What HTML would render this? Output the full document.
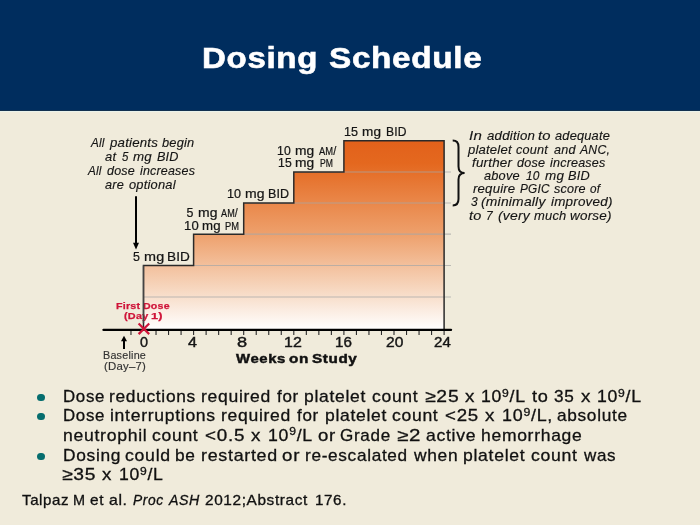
<!DOCTYPE html>
<html><head><meta charset="utf-8"><style>
html,body{margin:0;padding:0;}
body{width:700px;height:525px;overflow:hidden;position:relative;background:#f0ebdb;font-family:"Liberation Sans",sans-serif;}
.hdr{position:absolute;left:0;top:0;width:700px;height:110px;background:#002d5e;}
.t{position:absolute;white-space:nowrap;transform-origin:0 0;}
.chart{position:absolute;left:0;top:0;}
.txt{position:absolute;left:0;top:0;width:700px;height:525px;will-change:transform;}
.dot{position:absolute;width:7.2px;height:7.2px;border-radius:50%;background:#056d6e;}
</style></head><body>
<div class="hdr"></div><div style="position:absolute;left:0;top:110px;width:700px;height:1px;background:#13304f"></div><div style="position:absolute;left:0;top:111px;width:700px;height:1px;background:#eaf2ea"></div>
<svg class="chart" width="700" height="525" viewBox="0 0 700 525">
<defs><linearGradient id="g" x1="0" y1="140.7" x2="0" y2="329.5" gradientUnits="userSpaceOnUse">
<stop offset="0" stop-color="#e2611b"/><stop offset="0.12" stop-color="#e4681f"/><stop offset="0.5" stop-color="#eea16d"/><stop offset="0.8" stop-color="#f7dac4"/><stop offset="1" stop-color="#ffffff"/></linearGradient>
<clipPath id="cp"><polygon points="143.50,329.50 143.50,265.50 193.60,265.50 193.60,234.20 243.70,234.20 243.70,203.00 293.80,203.00 293.80,172.00 343.90,172.00 343.90,140.70 444.10,140.70 444.10,329.50"/><rect x="444" y="130" width="8" height="200"/></clipPath></defs>
<polygon points="143.50,329.50 143.50,265.50 193.60,265.50 193.60,234.20 243.70,234.20 243.70,203.00 293.80,203.00 293.80,172.00 343.90,172.00 343.90,140.70 444.10,140.70 444.10,329.50" fill="url(#g)"/>
<g stroke="#a6a6a6" stroke-opacity="0.72" stroke-width="1.2" clip-path="url(#cp)"><line x1="143.50" y1="172.0" x2="451" y2="172.0"/><line x1="143.50" y1="203.0" x2="451" y2="203.0"/><line x1="143.50" y1="234.2" x2="451" y2="234.2"/><line x1="143.50" y1="265.5" x2="451" y2="265.5"/><line x1="143.50" y1="297.0" x2="451" y2="297.0"/></g>
<polyline points="143.50,329.50 143.50,265.50 193.60,265.50 193.60,234.20 243.70,234.20 243.70,203.00 293.80,203.00 293.80,172.00 343.90,172.00 343.90,140.70 444.10,140.70 444.10,329.50" fill="none" stroke="#2a2a2a" stroke-width="1.5"/>
<g stroke="#2a2a2a" stroke-width="1.1"><line x1="130.97" y1="329.8" x2="130.97" y2="335"/><line x1="156.03" y1="329.8" x2="156.03" y2="335"/><line x1="168.55" y1="329.8" x2="168.55" y2="335"/><line x1="181.07" y1="329.8" x2="181.07" y2="335"/><line x1="193.60" y1="329.8" x2="193.60" y2="335"/><line x1="206.12" y1="329.8" x2="206.12" y2="335"/><line x1="218.65" y1="329.8" x2="218.65" y2="335"/><line x1="231.18" y1="329.8" x2="231.18" y2="335"/><line x1="243.70" y1="329.8" x2="243.70" y2="335"/><line x1="256.23" y1="329.8" x2="256.23" y2="335"/><line x1="268.75" y1="329.8" x2="268.75" y2="335"/><line x1="281.27" y1="329.8" x2="281.27" y2="335"/><line x1="293.80" y1="329.8" x2="293.80" y2="335"/><line x1="306.33" y1="329.8" x2="306.33" y2="335"/><line x1="318.85" y1="329.8" x2="318.85" y2="335"/><line x1="331.38" y1="329.8" x2="331.38" y2="335"/><line x1="343.90" y1="329.8" x2="343.90" y2="335"/><line x1="356.43" y1="329.8" x2="356.43" y2="335"/><line x1="368.95" y1="329.8" x2="368.95" y2="335"/><line x1="381.48" y1="329.8" x2="381.48" y2="335"/><line x1="394.00" y1="329.8" x2="394.00" y2="335"/><line x1="406.53" y1="329.8" x2="406.53" y2="335"/><line x1="419.05" y1="329.8" x2="419.05" y2="335"/><line x1="431.57" y1="329.8" x2="431.57" y2="335"/><line x1="444.10" y1="329.8" x2="444.10" y2="335"/></g>
<line x1="103.5" y1="329.8" x2="451" y2="329.8" stroke="#000" stroke-width="2.35" stroke-linecap="round"/>
<g stroke="#cf1439" stroke-width="2.2"><line x1="138.6" y1="323.5" x2="149.2" y2="334.1"/><line x1="149.2" y1="323.5" x2="138.6" y2="334.1"/></g>
<line x1="124" y1="349" x2="124" y2="340" stroke="#000" stroke-width="2"/>
<polygon points="124,335.8 127,341.2 121,341.2" fill="#000"/>
<line x1="136" y1="196.3" x2="136" y2="243" stroke="#000" stroke-width="2"/>
<polygon points="136,249.4 139,242.8 133,242.8" fill="#000"/>
<path d="M452.7 140.6 Q458.5 140.6 458.5 147 L458.5 166.5 Q458.5 173 464.6 173 Q458.5 173 458.5 179.5 L458.5 199 Q458.5 205.4 452.7 205.4" fill="none" stroke="#111" stroke-width="2"/>
</svg>
<div class="dot" style="left:37.4px;top:394.0px"></div><div class="dot" style="left:37.4px;top:413.2px"></div><div class="dot" style="left:37.4px;top:452.8px"></div>
<div class="txt"><div class="t" style="left:201.80px;top:42.80px;font-size:30px;line-height:30px;font-weight:bold;font-style:normal;color:#ffffff;letter-spacing:0.02em;transform:scaleX(1.1020);-webkit-text-stroke:0.6px #ffffff">Dosing</div><div class="t" style="left:328.89px;top:42.80px;font-size:30px;line-height:30px;font-weight:bold;font-style:normal;color:#ffffff;letter-spacing:0.02em;transform:scaleX(1.1103);-webkit-text-stroke:0.6px #ffffff">Schedule</div><div class="t" style="left:343.78px;top:126.00px;font-size:12.4px;line-height:12.4px;font-weight:normal;font-style:normal;color:#151515;letter-spacing:0.01em;transform:scaleX(1.0154);-webkit-text-stroke:0.22px #151515">15</div><div class="t" style="left:362.41px;top:126.00px;font-size:12.4px;line-height:12.4px;font-weight:normal;font-style:normal;color:#151515;letter-spacing:0.01em;transform:scaleX(1.0938);-webkit-text-stroke:0.22px #151515">mg</div><div class="t" style="left:386.02px;top:126.00px;font-size:12.4px;line-height:12.4px;font-weight:normal;font-style:normal;color:#151515;letter-spacing:0.01em;transform:scaleX(0.9750);-webkit-text-stroke:0.22px #151515">BID</div><div class="t" style="left:277.32px;top:144.80px;font-size:12.4px;line-height:12.4px;font-weight:normal;font-style:normal;color:#151515;letter-spacing:0.01em;transform:scaleX(0.9846);-webkit-text-stroke:0.22px #151515">10</div><div class="t" style="left:295.49px;top:144.80px;font-size:12.4px;line-height:12.4px;font-weight:normal;font-style:normal;color:#151515;letter-spacing:0.01em;transform:scaleX(1.1125);-webkit-text-stroke:0.22px #151515">mg</div><div class="t" style="left:319.00px;top:144.80px;font-size:12.4px;line-height:12.4px;font-weight:normal;font-style:normal;color:#151515;letter-spacing:0.01em;transform:scaleX(0.8900);-webkit-text-stroke:0.22px #151515"><span style="font-size:0.85em">AM</span>/</div><div class="t" style="left:277.72px;top:157.30px;font-size:12.4px;line-height:12.4px;font-weight:normal;font-style:normal;color:#151515;letter-spacing:0.01em;transform:scaleX(0.9846);-webkit-text-stroke:0.22px #151515">15</div><div class="t" style="left:295.49px;top:157.30px;font-size:12.4px;line-height:12.4px;font-weight:normal;font-style:normal;color:#151515;letter-spacing:0.01em;transform:scaleX(1.1125);-webkit-text-stroke:0.22px #151515">mg</div><div class="t" style="left:319.99px;top:157.30px;font-size:12.4px;line-height:12.4px;font-weight:normal;font-style:normal;color:#151515;letter-spacing:0.01em;transform:scaleX(0.8143);-webkit-text-stroke:0.22px #151515"><span style="font-size:0.85em">PM</span></div><div class="t" style="left:226.58px;top:188.00px;font-size:12.4px;line-height:12.4px;font-weight:normal;font-style:normal;color:#151515;letter-spacing:0.01em;transform:scaleX(1.0154);-webkit-text-stroke:0.22px #151515">10</div><div class="t" style="left:244.57px;top:188.00px;font-size:12.4px;line-height:12.4px;font-weight:normal;font-style:normal;color:#151515;letter-spacing:0.01em;transform:scaleX(1.1313);-webkit-text-stroke:0.22px #151515">mg</div><div class="t" style="left:268.49px;top:188.00px;font-size:12.4px;line-height:12.4px;font-weight:normal;font-style:normal;color:#151515;letter-spacing:0.01em;transform:scaleX(1.0100);-webkit-text-stroke:0.22px #151515">BID</div><div class="t" style="left:186.60px;top:206.70px;font-size:12.4px;line-height:12.4px;font-weight:normal;font-style:normal;color:#151515;letter-spacing:0.01em;transform:scaleX(1.0000);-webkit-text-stroke:0.22px #151515">5</div><div class="t" style="left:197.57px;top:206.70px;font-size:12.4px;line-height:12.4px;font-weight:normal;font-style:normal;color:#151515;letter-spacing:0.01em;transform:scaleX(1.1250);-webkit-text-stroke:0.22px #151515">mg</div><div class="t" style="left:221.40px;top:206.70px;font-size:12.4px;line-height:12.4px;font-weight:normal;font-style:normal;color:#151515;letter-spacing:0.01em;transform:scaleX(0.8600);-webkit-text-stroke:0.22px #151515"><span style="font-size:0.85em">AM</span>/</div><div class="t" style="left:183.55px;top:219.60px;font-size:12.4px;line-height:12.4px;font-weight:normal;font-style:normal;color:#151515;letter-spacing:0.01em;transform:scaleX(1.0538);-webkit-text-stroke:0.22px #151515">10</div><div class="t" style="left:201.93px;top:219.60px;font-size:12.4px;line-height:12.4px;font-weight:normal;font-style:normal;color:#151515;letter-spacing:0.01em;transform:scaleX(1.0687);-webkit-text-stroke:0.22px #151515">mg</div><div class="t" style="left:224.81px;top:219.60px;font-size:12.4px;line-height:12.4px;font-weight:normal;font-style:normal;color:#151515;letter-spacing:0.01em;transform:scaleX(0.8857);-webkit-text-stroke:0.22px #151515"><span style="font-size:0.85em">PM</span></div><div class="t" style="left:133.10px;top:251.10px;font-size:12.4px;line-height:12.4px;font-weight:normal;font-style:normal;color:#151515;letter-spacing:0.01em;transform:scaleX(1.0000);-webkit-text-stroke:0.22px #151515">5</div><div class="t" style="left:143.84px;top:251.10px;font-size:12.4px;line-height:12.4px;font-weight:normal;font-style:normal;color:#151515;letter-spacing:0.01em;transform:scaleX(1.1625);-webkit-text-stroke:0.22px #151515">mg</div><div class="t" style="left:167.31px;top:251.10px;font-size:12.4px;line-height:12.4px;font-weight:normal;font-style:normal;color:#151515;letter-spacing:0.01em;transform:scaleX(1.0950);-webkit-text-stroke:0.22px #151515">BID</div><div class="t" style="left:91.00px;top:136.70px;font-size:12.8px;line-height:12.8px;font-weight:normal;font-style:italic;color:#151515;letter-spacing:0.015em;transform:scaleX(0.9157);-webkit-text-stroke:0.15px #151515">All</div><div class="t" style="left:110.09px;top:136.70px;font-size:12.8px;line-height:12.8px;font-weight:normal;font-style:italic;color:#151515;letter-spacing:0.015em;transform:scaleX(1.0350);-webkit-text-stroke:0.15px #151515">patients</div><div class="t" style="left:162.46px;top:136.70px;font-size:12.8px;line-height:12.8px;font-weight:normal;font-style:italic;color:#151515;letter-spacing:0.015em;transform:scaleX(1.0014);-webkit-text-stroke:0.15px #151515">begin</div><div class="t" style="left:105.00px;top:150.90px;font-size:12.8px;line-height:12.8px;font-weight:normal;font-style:italic;color:#151515;letter-spacing:0.015em;transform:scaleX(1.0140);-webkit-text-stroke:0.15px #151515">at</div><div class="t" style="left:121.59px;top:150.90px;font-size:12.8px;line-height:12.8px;font-weight:normal;font-style:italic;color:#151515;letter-spacing:0.015em;transform:scaleX(0.8987);-webkit-text-stroke:0.15px #151515">5</div><div class="t" style="left:133.07px;top:150.90px;font-size:12.8px;line-height:12.8px;font-weight:normal;font-style:italic;color:#151515;letter-spacing:0.015em;transform:scaleX(1.0424);-webkit-text-stroke:0.15px #151515">mg</div><div class="t" style="left:156.66px;top:150.90px;font-size:12.8px;line-height:12.8px;font-weight:normal;font-style:italic;color:#151515;letter-spacing:0.015em;transform:scaleX(0.9882);-webkit-text-stroke:0.15px #151515">BID</div><div class="t" style="left:88.00px;top:164.90px;font-size:12.8px;line-height:12.8px;font-weight:normal;font-style:italic;color:#151515;letter-spacing:0.015em;transform:scaleX(0.9162);-webkit-text-stroke:0.15px #151515">All</div><div class="t" style="left:107.10px;top:164.90px;font-size:12.8px;line-height:12.8px;font-weight:normal;font-style:italic;color:#151515;letter-spacing:0.015em;transform:scaleX(0.9803);-webkit-text-stroke:0.15px #151515">dose</div><div class="t" style="left:139.90px;top:164.90px;font-size:12.8px;line-height:12.8px;font-weight:normal;font-style:italic;color:#151515;letter-spacing:0.015em;transform:scaleX(0.9749);-webkit-text-stroke:0.15px #151515">increases</div><div class="t" style="left:105.00px;top:179.10px;font-size:12.8px;line-height:12.8px;font-weight:normal;font-style:italic;color:#151515;letter-spacing:0.015em;transform:scaleX(0.9943);-webkit-text-stroke:0.15px #151515">are</div><div class="t" style="left:128.73px;top:179.10px;font-size:12.8px;line-height:12.8px;font-weight:normal;font-style:italic;color:#151515;letter-spacing:0.015em;transform:scaleX(1.0078);-webkit-text-stroke:0.15px #151515">optional</div><div class="t" style="left:469.13px;top:130.40px;font-size:12.9px;line-height:12.9px;font-weight:normal;font-style:italic;color:#151515;letter-spacing:0.015em;transform:scaleX(1.1677);-webkit-text-stroke:0.15px #151515">In</div><div class="t" style="left:486.72px;top:130.40px;font-size:12.9px;line-height:12.9px;font-weight:normal;font-style:italic;color:#151515;letter-spacing:0.015em;transform:scaleX(1.0311);-webkit-text-stroke:0.15px #151515">addition</div><div class="t" style="left:537.62px;top:130.40px;font-size:12.9px;line-height:12.9px;font-weight:normal;font-style:italic;color:#151515;letter-spacing:0.015em;transform:scaleX(1.1487);-webkit-text-stroke:0.15px #151515">to</div><div class="t" style="left:554.99px;top:130.40px;font-size:12.9px;line-height:12.9px;font-weight:normal;font-style:italic;color:#151515;letter-spacing:0.015em;transform:scaleX(0.9947);-webkit-text-stroke:0.15px #151515">adequate</div><div class="t" style="left:468.00px;top:143.60px;font-size:12.9px;line-height:12.9px;font-weight:normal;font-style:italic;color:#151515;letter-spacing:0.015em;transform:scaleX(1.0138);-webkit-text-stroke:0.15px #151515">platelet</div><div class="t" style="left:516.44px;top:143.60px;font-size:12.9px;line-height:12.9px;font-weight:normal;font-style:italic;color:#151515;letter-spacing:0.015em;transform:scaleX(0.9830);-webkit-text-stroke:0.15px #151515">count</div><div class="t" style="left:553.72px;top:143.60px;font-size:12.9px;line-height:12.9px;font-weight:normal;font-style:italic;color:#151515;letter-spacing:0.015em;transform:scaleX(0.9769);-webkit-text-stroke:0.15px #151515">and</div><div class="t" style="left:579.58px;top:143.60px;font-size:12.9px;line-height:12.9px;font-weight:normal;font-style:italic;color:#151515;letter-spacing:0.015em;transform:scaleX(0.9505);-webkit-text-stroke:0.15px #151515">ANC,</div><div class="t" style="left:471.80px;top:156.80px;font-size:12.9px;line-height:12.9px;font-weight:normal;font-style:italic;color:#151515;letter-spacing:0.015em;transform:scaleX(1.0399);-webkit-text-stroke:0.15px #151515">further</div><div class="t" style="left:517.11px;top:156.80px;font-size:12.9px;line-height:12.9px;font-weight:normal;font-style:italic;color:#151515;letter-spacing:0.015em;transform:scaleX(0.9801);-webkit-text-stroke:0.15px #151515">dose</div><div class="t" style="left:549.91px;top:156.80px;font-size:12.9px;line-height:12.9px;font-weight:normal;font-style:italic;color:#151515;letter-spacing:0.015em;transform:scaleX(0.9748);-webkit-text-stroke:0.15px #151515">increases</div><div class="t" style="left:484.30px;top:170.00px;font-size:12.9px;line-height:12.9px;font-weight:normal;font-style:italic;color:#151515;letter-spacing:0.015em;transform:scaleX(0.9921);-webkit-text-stroke:0.15px #151515">above</div><div class="t" style="left:526.29px;top:170.00px;font-size:12.9px;line-height:12.9px;font-weight:normal;font-style:italic;color:#151515;letter-spacing:0.015em;transform:scaleX(0.9300);-webkit-text-stroke:0.15px #151515">10</div><div class="t" style="left:544.50px;top:170.00px;font-size:12.9px;line-height:12.9px;font-weight:normal;font-style:italic;color:#151515;letter-spacing:0.015em;transform:scaleX(1.0416);-webkit-text-stroke:0.15px #151515">mg</div><div class="t" style="left:568.08px;top:170.00px;font-size:12.9px;line-height:12.9px;font-weight:normal;font-style:italic;color:#151515;letter-spacing:0.015em;transform:scaleX(0.9875);-webkit-text-stroke:0.15px #151515">BID</div><div class="t" style="left:473.00px;top:183.20px;font-size:12.9px;line-height:12.9px;font-weight:normal;font-style:italic;color:#151515;letter-spacing:0.015em;transform:scaleX(1.0220);-webkit-text-stroke:0.15px #151515">require</div><div class="t" style="left:519.66px;top:183.20px;font-size:12.9px;line-height:12.9px;font-weight:normal;font-style:italic;color:#151515;letter-spacing:0.015em;transform:scaleX(0.9165);-webkit-text-stroke:0.15px #151515">PGIC</div><div class="t" style="left:553.75px;top:183.20px;font-size:12.9px;line-height:12.9px;font-weight:normal;font-style:italic;color:#151515;letter-spacing:0.015em;transform:scaleX(0.9794);-webkit-text-stroke:0.15px #151515">score</div><div class="t" style="left:589.86px;top:183.20px;font-size:12.9px;line-height:12.9px;font-weight:normal;font-style:italic;color:#151515;letter-spacing:0.015em;transform:scaleX(0.9120);-webkit-text-stroke:0.15px #151515">of</div><div class="t" style="left:470.50px;top:196.40px;font-size:12.9px;line-height:12.9px;font-weight:normal;font-style:italic;color:#151515;letter-spacing:0.015em;transform:scaleX(0.9292);-webkit-text-stroke:0.15px #151515">3</div><div class="t" style="left:481.42px;top:196.40px;font-size:12.9px;line-height:12.9px;font-weight:normal;font-style:italic;color:#151515;letter-spacing:0.015em;transform:scaleX(1.0766);-webkit-text-stroke:0.15px #151515">(minimally</div><div class="t" style="left:551.02px;top:196.40px;font-size:12.9px;line-height:12.9px;font-weight:normal;font-style:italic;color:#151515;letter-spacing:0.015em;transform:scaleX(1.0427);-webkit-text-stroke:0.15px #151515">improved)</div><div class="t" style="left:469.28px;top:209.60px;font-size:12.9px;line-height:12.9px;font-weight:normal;font-style:italic;color:#151515;letter-spacing:0.015em;transform:scaleX(1.1236);-webkit-text-stroke:0.15px #151515">to</div><div class="t" style="left:485.89px;top:209.60px;font-size:12.9px;line-height:12.9px;font-weight:normal;font-style:italic;color:#151515;letter-spacing:0.015em;transform:scaleX(0.9313);-webkit-text-stroke:0.15px #151515">7</div><div class="t" style="left:497.69px;top:209.60px;font-size:12.9px;line-height:12.9px;font-weight:normal;font-style:italic;color:#151515;letter-spacing:0.015em;transform:scaleX(1.0777);-webkit-text-stroke:0.15px #151515">(very</div><div class="t" style="left:534.39px;top:209.60px;font-size:12.9px;line-height:12.9px;font-weight:normal;font-style:italic;color:#151515;letter-spacing:0.015em;transform:scaleX(1.0050);-webkit-text-stroke:0.15px #151515">much</div><div class="t" style="left:570.21px;top:209.60px;font-size:12.9px;line-height:12.9px;font-weight:normal;font-style:italic;color:#151515;letter-spacing:0.015em;transform:scaleX(1.0458);-webkit-text-stroke:0.15px #151515">worse)</div><div class="t" style="left:139.70px;top:335.90px;font-size:13.8px;line-height:13.8px;font-weight:normal;font-style:normal;color:#151515;letter-spacing:0em;transform:scaleX(1.0429);-webkit-text-stroke:0.4px #151515">0</div><div class="t" style="left:187.60px;top:335.90px;font-size:13.8px;line-height:13.8px;font-weight:normal;font-style:normal;color:#151515;letter-spacing:0em;transform:scaleX(1.1714);-webkit-text-stroke:0.4px #151515">4</div><div class="t" style="left:237.28px;top:335.90px;font-size:13.8px;line-height:13.8px;font-weight:normal;font-style:normal;color:#151515;letter-spacing:0em;transform:scaleX(1.3167);-webkit-text-stroke:0.4px #151515">8</div><div class="t" style="left:284.04px;top:335.90px;font-size:13.8px;line-height:13.8px;font-weight:normal;font-style:normal;color:#151515;letter-spacing:0em;transform:scaleX(1.1571);-webkit-text-stroke:0.4px #151515">12</div><div class="t" style="left:334.90px;top:335.90px;font-size:13.8px;line-height:13.8px;font-weight:normal;font-style:normal;color:#151515;letter-spacing:0em;transform:scaleX(1.1000);-webkit-text-stroke:0.4px #151515">16</div><div class="t" style="left:385.97px;top:335.90px;font-size:13.8px;line-height:13.8px;font-weight:normal;font-style:normal;color:#151515;letter-spacing:0em;transform:scaleX(1.1286);-webkit-text-stroke:0.4px #151515">20</div><div class="t" style="left:433.51px;top:335.90px;font-size:13.8px;line-height:13.8px;font-weight:normal;font-style:normal;color:#151515;letter-spacing:0em;transform:scaleX(1.0929);-webkit-text-stroke:0.4px #151515">24</div><div class="t" style="left:236.00px;top:351.60px;font-size:13.2px;line-height:13.2px;font-weight:bold;font-style:normal;color:#111;letter-spacing:0.04em;transform:scaleX(1.1302);-webkit-text-stroke:0.45px #111">Weeks</div><div class="t" style="left:289.40px;top:351.60px;font-size:13.2px;line-height:13.2px;font-weight:bold;font-style:normal;color:#111;letter-spacing:0.04em;transform:scaleX(1.1625);-webkit-text-stroke:0.45px #111">on</div><div class="t" style="left:311.84px;top:351.60px;font-size:13.2px;line-height:13.2px;font-weight:bold;font-style:normal;color:#111;letter-spacing:0.04em;transform:scaleX(1.1579);-webkit-text-stroke:0.45px #111">Study</div><div class="t" style="left:103.36px;top:350.50px;font-size:10.4px;line-height:10.4px;font-weight:normal;font-style:normal;color:#333;letter-spacing:0.02em;transform:scaleX(1.0375);-webkit-text-stroke:0.15px #333">Baseline</div><div class="t" style="left:104.20px;top:361.50px;font-size:10.4px;line-height:10.4px;font-weight:normal;font-style:normal;color:#333;letter-spacing:0.02em;transform:scaleX(1.0973);-webkit-text-stroke:0.15px #333">(Day–7)</div><div class="t" style="left:116.31px;top:301.00px;font-size:9.8px;line-height:9.8px;font-weight:bold;font-style:normal;color:#cf1439;letter-spacing:0.02em;transform:scaleX(1.0905);-webkit-text-stroke:0.25px #cf1439">First</div><div class="t" style="left:143.02px;top:301.00px;font-size:9.8px;line-height:9.8px;font-weight:bold;font-style:normal;color:#cf1439;letter-spacing:0.02em;transform:scaleX(1.0826);-webkit-text-stroke:0.25px #cf1439">Dose</div><div class="t" style="left:123.60px;top:311.40px;font-size:9.8px;line-height:9.8px;font-weight:bold;font-style:normal;color:#cf1439;letter-spacing:0.02em;transform:scaleX(1.1091);-webkit-text-stroke:0.25px #cf1439">(Day</div><div class="t" style="left:150.90px;top:311.40px;font-size:9.8px;line-height:9.8px;font-weight:bold;font-style:normal;color:#cf1439;letter-spacing:0.02em;transform:scaleX(1.3000);-webkit-text-stroke:0.25px #cf1439">1)</div><div class="t" style="left:62.68px;top:388.90px;font-size:16.6px;line-height:16.6px;font-weight:normal;font-style:normal;color:#111;letter-spacing:0.04em;transform:scaleX(1.0166);-webkit-text-stroke:0.3px #111">Dose</div><div class="t" style="left:109.40px;top:388.90px;font-size:16.6px;line-height:16.6px;font-weight:normal;font-style:normal;color:#111;letter-spacing:0.04em;transform:scaleX(1.0445);-webkit-text-stroke:0.3px #111">reductions</div><div class="t" style="left:201.09px;top:388.90px;font-size:16.6px;line-height:16.6px;font-weight:normal;font-style:normal;color:#111;letter-spacing:0.04em;transform:scaleX(1.0562);-webkit-text-stroke:0.3px #111">required</div><div class="t" style="left:276.85px;top:388.90px;font-size:16.6px;line-height:16.6px;font-weight:normal;font-style:normal;color:#111;letter-spacing:0.04em;transform:scaleX(1.0222);-webkit-text-stroke:0.3px #111">for</div><div class="t" style="left:304.36px;top:388.90px;font-size:16.6px;line-height:16.6px;font-weight:normal;font-style:normal;color:#111;letter-spacing:0.04em;transform:scaleX(1.0542);-webkit-text-stroke:0.3px #111">platelet</div><div class="t" style="left:371.70px;top:388.90px;font-size:16.6px;line-height:16.6px;font-weight:normal;font-style:normal;color:#111;letter-spacing:0.04em;transform:scaleX(1.0563);-webkit-text-stroke:0.3px #111">count</div><div class="t" style="left:424.70px;top:388.90px;font-size:16.6px;line-height:16.6px;font-weight:normal;font-style:normal;color:#111;letter-spacing:0.04em;transform:scaleX(1.1636);-webkit-text-stroke:0.3px #111">≥25</div><div class="t" style="left:464.55px;top:388.90px;font-size:16.6px;line-height:16.6px;font-weight:normal;font-style:normal;color:#111;letter-spacing:0.04em;transform:scaleX(1.1344);-webkit-text-stroke:0.3px #111">x</div><div class="t" style="left:481.30px;top:388.90px;font-size:16.6px;line-height:16.6px;font-weight:normal;font-style:normal;color:#111;letter-spacing:0.04em;transform:scaleX(1.0658);-webkit-text-stroke:0.3px #111">10<span style="font-size:0.69em;position:relative;top:-0.45em">9</span>/L</div><div class="t" style="left:531.76px;top:388.90px;font-size:16.6px;line-height:16.6px;font-weight:normal;font-style:normal;color:#111;letter-spacing:0.04em;transform:scaleX(1.0936);-webkit-text-stroke:0.3px #111">to</div><div class="t" style="left:553.63px;top:388.90px;font-size:16.6px;line-height:16.6px;font-weight:normal;font-style:normal;color:#111;letter-spacing:0.04em;transform:scaleX(1.0347);-webkit-text-stroke:0.3px #111">35</div><div class="t" style="left:580.55px;top:388.90px;font-size:16.6px;line-height:16.6px;font-weight:normal;font-style:normal;color:#111;letter-spacing:0.04em;transform:scaleX(1.1344);-webkit-text-stroke:0.3px #111">x</div><div class="t" style="left:597.30px;top:388.90px;font-size:16.6px;line-height:16.6px;font-weight:normal;font-style:normal;color:#111;letter-spacing:0.04em;transform:scaleX(1.0658);-webkit-text-stroke:0.3px #111">10<span style="font-size:0.69em;position:relative;top:-0.45em">9</span>/L</div><div class="t" style="left:62.68px;top:408.30px;font-size:16.6px;line-height:16.6px;font-weight:normal;font-style:normal;color:#111;letter-spacing:0.04em;transform:scaleX(1.0179);-webkit-text-stroke:0.3px #111">Dose</div><div class="t" style="left:110.27px;top:408.30px;font-size:16.6px;line-height:16.6px;font-weight:normal;font-style:normal;color:#111;letter-spacing:0.04em;transform:scaleX(1.0589);-webkit-text-stroke:0.3px #111">interruptions</div><div class="t" style="left:221.16px;top:408.30px;font-size:16.6px;line-height:16.6px;font-weight:normal;font-style:normal;color:#111;letter-spacing:0.04em;transform:scaleX(1.0577);-webkit-text-stroke:0.3px #111">required</div><div class="t" style="left:297.01px;top:408.30px;font-size:16.6px;line-height:16.6px;font-weight:normal;font-style:normal;color:#111;letter-spacing:0.04em;transform:scaleX(1.0236);-webkit-text-stroke:0.3px #111">for</div><div class="t" style="left:324.56px;top:408.30px;font-size:16.6px;line-height:16.6px;font-weight:normal;font-style:normal;color:#111;letter-spacing:0.04em;transform:scaleX(1.0556);-webkit-text-stroke:0.3px #111">platelet</div><div class="t" style="left:391.99px;top:408.30px;font-size:16.6px;line-height:16.6px;font-weight:normal;font-style:normal;color:#111;letter-spacing:0.04em;transform:scaleX(1.0577);-webkit-text-stroke:0.3px #111">count</div><div class="t" style="left:445.11px;top:408.30px;font-size:16.6px;line-height:16.6px;font-weight:normal;font-style:normal;color:#111;letter-spacing:0.04em;transform:scaleX(1.1236);-webkit-text-stroke:0.3px #111">&lt;25</div><div class="t" style="left:484.96px;top:408.30px;font-size:16.6px;line-height:16.6px;font-weight:normal;font-style:normal;color:#111;letter-spacing:0.04em;transform:scaleX(1.1359);-webkit-text-stroke:0.3px #111">x</div><div class="t" style="left:501.72px;top:408.30px;font-size:16.6px;line-height:16.6px;font-weight:normal;font-style:normal;color:#111;letter-spacing:0.04em;transform:scaleX(1.0802);-webkit-text-stroke:0.3px #111">10<span style="font-size:0.69em;position:relative;top:-0.45em">9</span>/L,</div><div class="t" style="left:557.39px;top:408.30px;font-size:16.6px;line-height:16.6px;font-weight:normal;font-style:normal;color:#111;letter-spacing:0.04em;transform:scaleX(1.0390);-webkit-text-stroke:0.3px #111">absolute</div><div class="t" style="left:62.64px;top:427.60px;font-size:16.6px;line-height:16.6px;font-weight:normal;font-style:normal;color:#111;letter-spacing:0.04em;transform:scaleX(1.0608);-webkit-text-stroke:0.3px #111">neutrophil</div><div class="t" style="left:152.25px;top:427.60px;font-size:16.6px;line-height:16.6px;font-weight:normal;font-style:normal;color:#111;letter-spacing:0.04em;transform:scaleX(1.0577);-webkit-text-stroke:0.3px #111">count</div><div class="t" style="left:205.35px;top:427.60px;font-size:16.6px;line-height:16.6px;font-weight:normal;font-style:normal;color:#111;letter-spacing:0.04em;transform:scaleX(1.1348);-webkit-text-stroke:0.3px #111">&lt;0.5</div><div class="t" style="left:251.21px;top:427.60px;font-size:16.6px;line-height:16.6px;font-weight:normal;font-style:normal;color:#111;letter-spacing:0.04em;transform:scaleX(1.1359);-webkit-text-stroke:0.3px #111">x</div><div class="t" style="left:267.98px;top:427.60px;font-size:16.6px;line-height:16.6px;font-weight:normal;font-style:normal;color:#111;letter-spacing:0.04em;transform:scaleX(1.0672);-webkit-text-stroke:0.3px #111">10<span style="font-size:0.69em;position:relative;top:-0.45em">9</span>/L</div><div class="t" style="left:317.56px;top:427.60px;font-size:16.6px;line-height:16.6px;font-weight:normal;font-style:normal;color:#111;letter-spacing:0.04em;transform:scaleX(1.1218);-webkit-text-stroke:0.3px #111">or</div><div class="t" style="left:340.46px;top:427.60px;font-size:16.6px;line-height:16.6px;font-weight:normal;font-style:normal;color:#111;letter-spacing:0.04em;transform:scaleX(1.0289);-webkit-text-stroke:0.3px #111">Grade</div><div class="t" style="left:397.21px;top:427.60px;font-size:16.6px;line-height:16.6px;font-weight:normal;font-style:normal;color:#111;letter-spacing:0.04em;transform:scaleX(1.2342);-webkit-text-stroke:0.3px #111">≥2</div><div class="t" style="left:425.96px;top:427.60px;font-size:16.6px;line-height:16.6px;font-weight:normal;font-style:normal;color:#111;letter-spacing:0.04em;transform:scaleX(1.0588);-webkit-text-stroke:0.3px #111">active</div><div class="t" style="left:480.72px;top:427.60px;font-size:16.6px;line-height:16.6px;font-weight:normal;font-style:normal;color:#111;letter-spacing:0.04em;transform:scaleX(1.0556);-webkit-text-stroke:0.3px #111">hemorrhage</div><div class="t" style="left:62.65px;top:448.00px;font-size:16.6px;line-height:16.6px;font-weight:normal;font-style:normal;color:#111;letter-spacing:0.04em;transform:scaleX(1.0454);-webkit-text-stroke:0.3px #111">Dosing</div><div class="t" style="left:125.18px;top:448.00px;font-size:16.6px;line-height:16.6px;font-weight:normal;font-style:normal;color:#111;letter-spacing:0.04em;transform:scaleX(1.0663);-webkit-text-stroke:0.3px #111">could</div><div class="t" style="left:174.99px;top:448.00px;font-size:16.6px;line-height:16.6px;font-weight:normal;font-style:normal;color:#111;letter-spacing:0.04em;transform:scaleX(1.0430);-webkit-text-stroke:0.3px #111">be</div><div class="t" style="left:200.87px;top:448.00px;font-size:16.6px;line-height:16.6px;font-weight:normal;font-style:normal;color:#111;letter-spacing:0.04em;transform:scaleX(1.0763);-webkit-text-stroke:0.3px #111">restarted</div><div class="t" style="left:282.22px;top:448.00px;font-size:16.6px;line-height:16.6px;font-weight:normal;font-style:normal;color:#111;letter-spacing:0.04em;transform:scaleX(1.1269);-webkit-text-stroke:0.3px #111">or</div><div class="t" style="left:305.23px;top:448.00px;font-size:16.6px;line-height:16.6px;font-weight:normal;font-style:normal;color:#111;letter-spacing:0.04em;transform:scaleX(1.0358);-webkit-text-stroke:0.3px #111">re-escalated</div><div class="t" style="left:413.88px;top:448.00px;font-size:16.6px;line-height:16.6px;font-weight:normal;font-style:normal;color:#111;letter-spacing:0.04em;transform:scaleX(1.0473);-webkit-text-stroke:0.3px #111">when</div><div class="t" style="left:462.90px;top:448.00px;font-size:16.6px;line-height:16.6px;font-weight:normal;font-style:normal;color:#111;letter-spacing:0.04em;transform:scaleX(1.0604);-webkit-text-stroke:0.3px #111">platelet</div><div class="t" style="left:530.65px;top:448.00px;font-size:16.6px;line-height:16.6px;font-weight:normal;font-style:normal;color:#111;letter-spacing:0.04em;transform:scaleX(1.0625);-webkit-text-stroke:0.3px #111">count</div><div class="t" style="left:583.64px;top:448.00px;font-size:16.6px;line-height:16.6px;font-weight:normal;font-style:normal;color:#111;letter-spacing:0.04em;transform:scaleX(1.0253);-webkit-text-stroke:0.3px #111">was</div><div class="t" style="left:62.44px;top:467.40px;font-size:16.6px;line-height:16.6px;font-weight:normal;font-style:normal;color:#111;letter-spacing:0.04em;transform:scaleX(1.1598);-webkit-text-stroke:0.3px #111">≥35</div><div class="t" style="left:102.15px;top:467.40px;font-size:16.6px;line-height:16.6px;font-weight:normal;font-style:normal;color:#111;letter-spacing:0.04em;transform:scaleX(1.1306);-webkit-text-stroke:0.3px #111">x</div><div class="t" style="left:118.85px;top:467.40px;font-size:16.6px;line-height:16.6px;font-weight:normal;font-style:normal;color:#111;letter-spacing:0.04em;transform:scaleX(1.0623);-webkit-text-stroke:0.3px #111">10<span style="font-size:0.69em;position:relative;top:-0.45em">9</span>/L</div><div class="t" style="left:21.70px;top:492.80px;font-size:14.2px;line-height:14.2px;font-weight:normal;font-style:normal;color:#111;letter-spacing:0.04em;transform:scaleX(1.0622);-webkit-text-stroke:0.3px #111">Talpaz</div><div class="t" style="left:73.05px;top:492.80px;font-size:14.2px;line-height:14.2px;font-weight:normal;font-style:normal;color:#111;letter-spacing:0.04em;transform:scaleX(1.0192);-webkit-text-stroke:0.3px #111">M</div><div class="t" style="left:89.87px;top:492.80px;font-size:14.2px;line-height:14.2px;font-weight:normal;font-style:normal;color:#111;letter-spacing:0.04em;transform:scaleX(1.0827);-webkit-text-stroke:0.3px #111">et</div><div class="t" style="left:109.24px;top:492.80px;font-size:14.2px;line-height:14.2px;font-weight:normal;font-style:normal;color:#111;letter-spacing:0.04em;transform:scaleX(1.1170);-webkit-text-stroke:0.3px #111">al.</div><div class="t" style="left:133.41px;top:492.80px;font-size:14.2px;line-height:14.2px;font-weight:normal;font-style:italic;color:#111;letter-spacing:0.04em;transform:scaleX(0.9729);-webkit-text-stroke:0.3px #111">Proc</div><div class="t" style="left:169.40px;top:492.80px;font-size:14.2px;line-height:14.2px;font-weight:normal;font-style:italic;color:#111;letter-spacing:0.04em;transform:scaleX(1.0005);-webkit-text-stroke:0.3px #111">ASH</div><div class="t" style="left:205.02px;top:492.80px;font-size:14.2px;line-height:14.2px;font-weight:normal;font-style:normal;color:#111;letter-spacing:0.04em;transform:scaleX(1.0836);-webkit-text-stroke:0.3px #111">2012;Abstract</div><div class="t" style="left:315.03px;top:492.80px;font-size:14.2px;line-height:14.2px;font-weight:normal;font-style:normal;color:#111;letter-spacing:0.04em;transform:scaleX(1.0702);-webkit-text-stroke:0.3px #111">176.</div></div>
<svg class="chart" width="700" height="525" viewBox="0 0 700 525"><line x1="143.5" y1="265.5" x2="143.5" y2="323" stroke="#444" stroke-width="1.4"/></svg>
</body></html>
